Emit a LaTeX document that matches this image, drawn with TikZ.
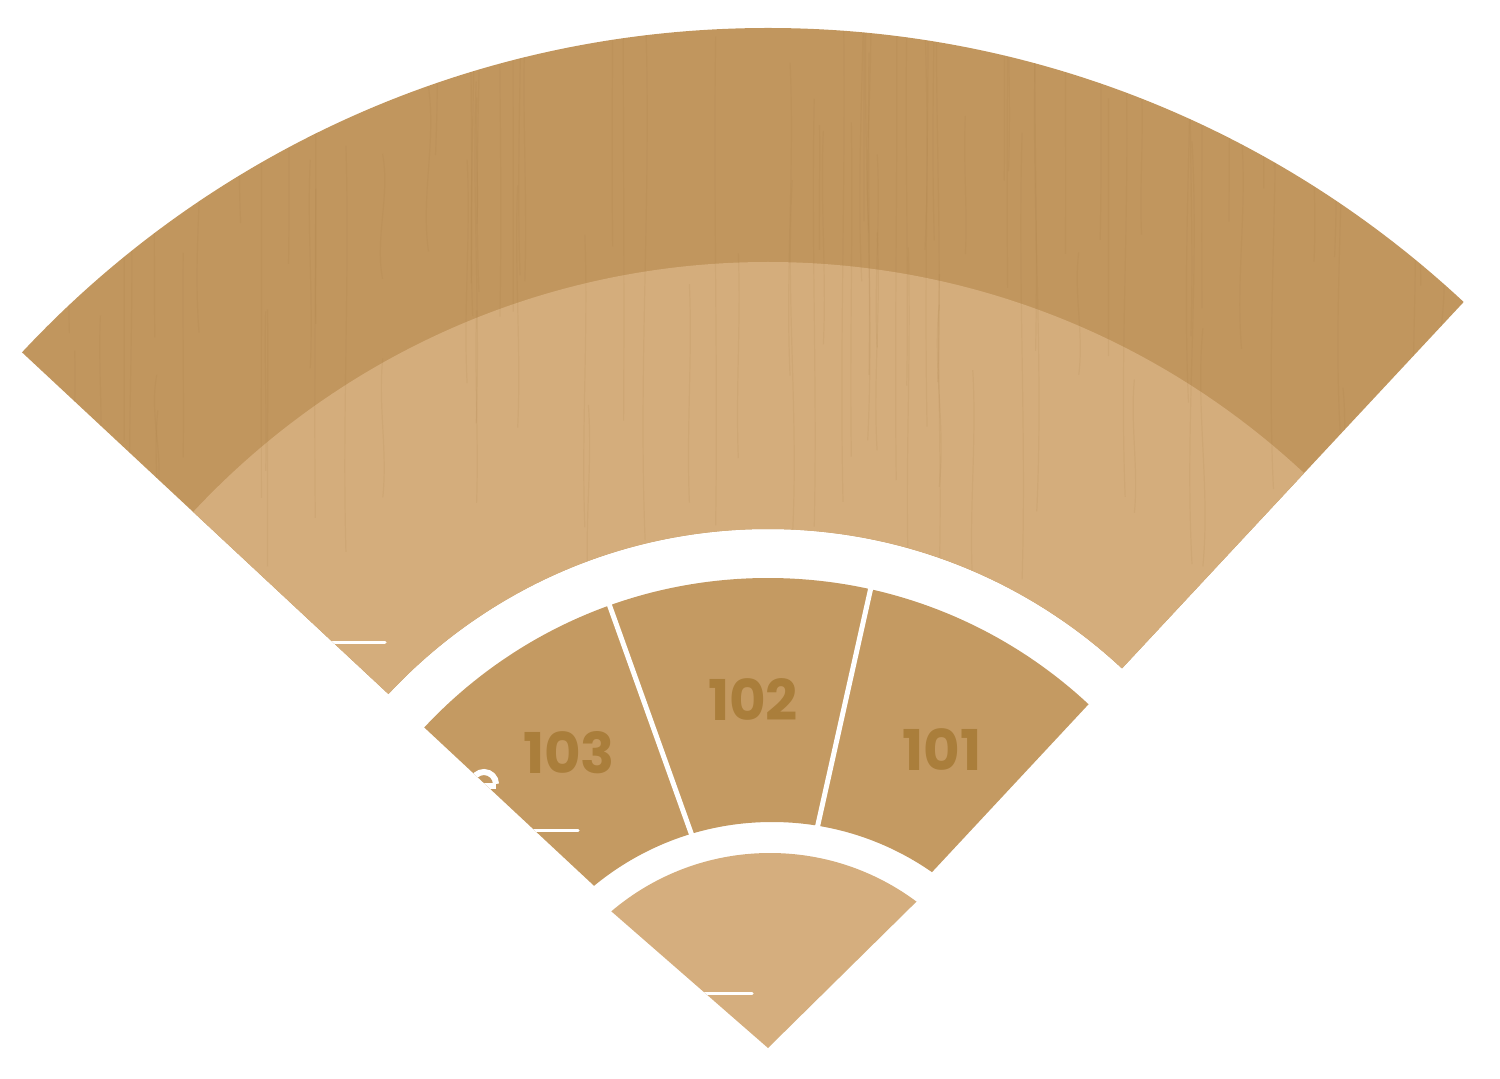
\documentclass[tikz,border=0pt]{standalone}
\usepackage{fontspec}
\newfontfamily\seatfont{Poppins}
\definecolor{wooddark}{HTML}{C1965E}
\definecolor{woodlight}{HTML}{D4AD7C}
\definecolor{secfill}{HTML}{C49A62}
\definecolor{pitfill}{HTML}{D5AE7E}
\definecolor{seattext}{HTML}{AA7E3B}
\definecolor{grainline}{HTML}{A67C45}
\begin{document}
\begin{tikzpicture}[x=0.1mm, y=0.1mm,
        seclabel/.style={text=seattext, font=\seatfont\bfseries\fontsize{16}{16}\selectfont},
        divider/.style={draw=white, line width=0.5mm},
        tick/.style={draw=white, line width=0.3mm, line cap=round},
        grain/.style={draw=grainline, opacity=0.12, line width=0.12mm}]
    \useasboundingbox (0,0) rectangle (1500,1078);
    \begin{scope}[shift={(768,30)}]
        \coordinate (apex) at (0,0);
        \begin{scope}
            \clip (apex) -- (47:1600) -- (137:1600) -- cycle;
            % upper rows
            \fill[wooddark, even odd rule] (apex) circle (1020) circle (519);
            \fill[woodlight, even odd rule] (apex) circle (786) circle (519);
            \begin{scope}[even odd rule]
                \clip (apex) circle (1020) circle (519);
                \pgfmathsetseed{11}
                \foreach \i in {1,...,110}{
                    \pgfmathsetmacro\gx{-760+1520*rnd}
                    \pgfmathsetmacro\gy{460+440*rnd}
                    \pgfmathsetmacro\gl{120+420*rnd}
                    \pgfmathsetmacro\gw{16*rnd-8}
                    \draw[grain] (\gx,\gy) .. controls (\gx+\gw,\gy+\gl/3) and (\gx-\gw,\gy+2*\gl/3) .. (\gx,\gy+\gl);
                }
                \draw[tick] (-460,406) -- (-383,406);
            \end{scope}
            % sections 101-103
            \fill[secfill, even odd rule] (apex) circle (470) (4,-54) circle (280);
            \draw[divider] (109.7:220) -- (109.7:480);
            \draw[divider] (77.4:220) -- (77.4:480);
            \node[seclabel] (s103) at (-199,295) {103};
            \node[seclabel] (s102) at (-15,348) {102};
            \node[seclabel] (s101) at (174,298) {101};
            \begin{scope}
                \clip (apex) circle (470);
                \draw[tick] (-260,218) -- (-190,218);
                \draw[white, line width=0.6mm] (-272,262) -- (-297,262);
                \draw[white, line width=0.6mm] (-272,264) arc (0:170:12);
            \end{scope}
        \end{scope}
        % front area
        \begin{scope}
            \clip (apex) -- (44.6:500) -- (138.9:500) -- cycle;
            \fill[pitfill] (2,-50) circle (245);
            \draw[tick] (-90,55) -- (-16,55);
        \end{scope}
    \end{scope}
\end{tikzpicture}
\end{document}
